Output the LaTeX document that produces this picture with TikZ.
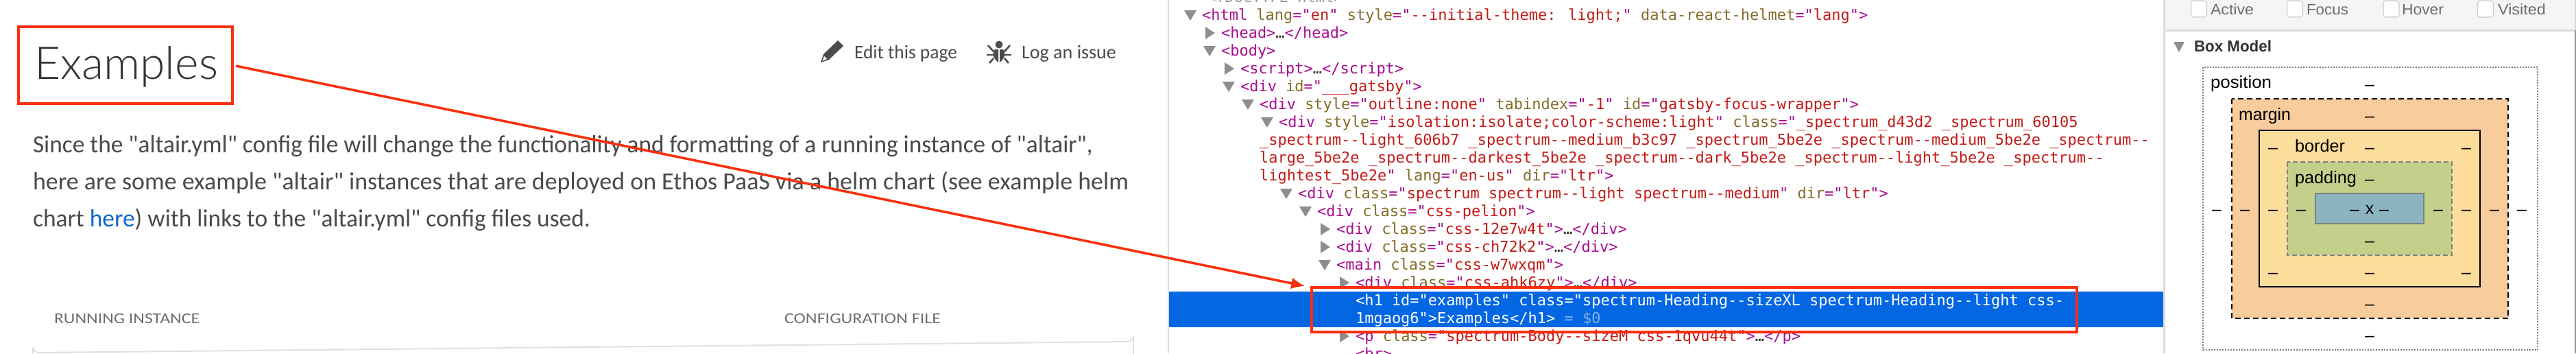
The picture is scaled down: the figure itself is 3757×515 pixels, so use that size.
\documentclass[tikz,border=0pt]{standalone}
\usepackage{fontspec}
\usepackage{graphicx}
\usetikzlibrary{arrows.meta}
\newfontfamily\pagefont{Lato Light}
\newfontfamily\pagereg{Carlito}
\newfontfamily\codefont{DejaVu Sans Mono}
\newfontfamily\panelfont{Liberation Sans}
\definecolor{inkgray}{HTML}{4B4B4B}
\definecolor{capgray}{HTML}{6E6E6E}
\definecolor{linkblue}{HTML}{0D66D0}
\definecolor{annored}{HTML}{FA2F0C}
\definecolor{tagc}{HTML}{A90D91}
\definecolor{attrc}{HTML}{836C28}
\definecolor{valc}{HTML}{C41A16}
\definecolor{selblue}{HTML}{0366E3}
\definecolor{rulec}{HTML}{DCDCDC}
\definecolor{trigray}{HTML}{8E8E8E}
\definecolor{mcol}{HTML}{F9CC9D}
\definecolor{bcol}{HTML}{FDDD9B}
\definecolor{pcol}{HTML}{C3D08B}
\definecolor{ccol}{HTML}{8CB4C0}
\newcommand{\fitw}[2]{\resizebox{#1pt}{\height}{#2}}
\newcommand{\tg}[1]{\textcolor{tagc}{#1}}
\newcommand{\an}[1]{\textcolor{attrc}{#1}}
\newcommand{\av}[1]{\textcolor{valc}{#1}}
\newcommand{\eqq}{\tg{="}}
\newcommand{\qq}{\tg{"}}
\newcommand{\elp}{\textcolor{black!80}{…}}
\newcommand{\attr}[2]{\an{#1}\eqq\av{#2}\qq}
\newcommand{\tridn}[2]{\fill[trimark] ({#1-26},{#2-14}) -- ({#1-8},{#2-14}) -- ({#1-17},{#2+1}) -- cycle;}
\newcommand{\trirt}[2]{\fill[trimark] ({#1-23},{#2-16}) -- ({#1-9},{#2-7}) -- ({#1-23},{#2+2}) -- cycle;}
\newcommand{\bmdash}[3]{\node[bmtext,anchor=base] (d#1) at (#2,{#3+7}) {–};}
\begin{document}
\begin{tikzpicture}[x=1pt,y=-1pt,
  pagetxt/.style={anchor=base west,inner sep=0,outer sep=0,text=inkgray,font=\pagereg},
  captxt/.style={anchor=base west,inner sep=0,outer sep=0,text=capgray,font=\pagereg\fontsize{22}{22}\selectfont},
  codeln/.style={anchor=base west,inner sep=0,outer sep=0,font=\codefont\fontsize{22}{22}\selectfont},
  trimark/.style={fill=trigray},
  bmtext/.style={inner sep=0,outer sep=0,text=black,font=\panelfont\fontsize{25}{25}\selectfont},
  bmlab/.style={bmtext,anchor=base west},
  statetxt/.style={anchor=base west,inner sep=0,outer sep=0,text=capgray,font=\panelfont\fontsize{22}{22}\selectfont},
  cbox/.style={draw=black!20,fill=white,line width=1.2pt,rounded corners=4pt,minimum width=23pt,minimum height=24pt,inner sep=0,outer sep=0},
  annobox/.style={draw=annored,line width=3.5pt,inner sep=0,outer sep=0},
  annoarrow/.style={draw=annored,line width=3.5pt,-{Latex[length=20pt,width=17pt]}},
  rulev/.style={draw=rulec,line width=2pt},
]
\useasboundingbox (0,0) rectangle (3757,515);
\fill[white] (0,0) rectangle (3757,515);
\clip (0,0) rectangle (3757,515);

% --- documentation page
\node[pagetxt,text=black!80,font=\pagefont\fontsize{66}{66}\selectfont] (title) at (50,115) {\fitw{268}{Examples}};
\node[pagetxt,font=\pagereg\fontsize{36}{36}\selectfont] (body1) at (48,222) {\fitw{1546}{Since the "altair.yml" config file will change the functionality and formatting of a running instance of "altair",}};
\node[pagetxt,font=\pagereg\fontsize{36}{36}\selectfont] (body2) at (48,276) {\fitw{1598}{here are some example "altair" instances that are deployed on Ethos PaaS via a helm chart (see example helm}};
\node[pagetxt,font=\pagereg\fontsize{36}{36}\selectfont] (body3) at (48,330) {\fitw{813}{chart \textcolor{linkblue}{here}) with links to the "altair.yml" config files used.}};
\node[pagetxt,font=\pagereg\fontsize{28}{28}\selectfont] (edit) at (1246,85) {\fitw{150}{Edit this page}};
\node[pagetxt,font=\pagereg\fontsize{28}{28}\selectfont] (issue) at (1490,85) {\fitw{138}{Log an issue}};
\node[captxt] (runinst) at (79,471) {\fitw{212}{RUNNING INSTANCE}};
\node[captxt] (cfgfile) at (1144,471) {\fitw{228}{CONFIGURATION FILE}};
\draw[draw=black!12,line width=2pt] (48,520) -- (48,506) arc[start angle=180,end angle=90,radius=8] -- (1645,498) arc[start angle=90,end angle=0,radius=8] -- (1653,520);

% pencil icon
\fill[inkgray] (1197,91) -- (1201,79) -- (1222,59) -- (1230,67) -- (1209,87) -- cycle;
\fill[white] (1199.5,88.5) -- (1202,82) -- (1206,86) -- cycle;
% bug icon
\fill[inkgray] (1457,65) circle (5.5);
\fill[inkgray] (1456,72) -- (1451,72) .. controls (1447,76) and (1447,84) .. (1456,91) -- cycle;
\fill[inkgray] (1458,72) -- (1463,72) .. controls (1467,76) and (1467,84) .. (1458,91) -- cycle;
\foreach \s in {-1,1} {
  \draw[inkgray,line width=2.6pt] ({1457+\s*8},75) -- ({1457+\s*16},66);
  \draw[inkgray,line width=2.6pt] ({1457+\s*8},80) -- ({1457+\s*18},80);
  \draw[inkgray,line width=2.6pt] ({1457+\s*8},85) -- ({1457+\s*14},92);
}

% --- dom tree
\fill[selblue] (1704,425) rectangle (3155,477);
\node[codeln,text=black!40] (cm) at (1760,3) {<!DOCTYPE html>};
\tridn{1753}{29}\node[codeln] (c0) at (1753,29) {\tg{<html} \attr{lang}{en} \attr{style}{--initial-theme: light;} \attr{data-react-helmet}{lang}\tg{>}};
\trirt{1781}{55}\node[codeln] (c1) at (1781,55) {\tg{<head>}\elp\tg{</head>}};
\tridn{1781}{81}\node[codeln] (c2) at (1781,81) {\tg{<body>}};
\trirt{1809}{107}\node[codeln] (c3) at (1809,107) {\tg{<script>}\elp\tg{</script>}};
\tridn{1809}{133}\node[codeln] (c4) at (1809,133) {\tg{<div} \attr{id}{\_\_\_gatsby}\tg{>}};
\tridn{1837}{159}\node[codeln] (c5) at (1837,159) {\tg{<div} \attr{style}{outline:none} \attr{tabindex}{-1} \attr{id}{gatsby-focus-wrapper}\tg{>}};
\tridn{1865}{185}\node[codeln] (c6) at (1865,185) {\tg{<div} \attr{style}{isolation:isolate;color-scheme:light} \an{class}\eqq\av{\_spectrum\_d43d2 \_spectrum\_60105}};
\node[codeln,text=valc] (c7) at (1837,211) {\_spectrum--light\_606b7 \_spectrum--medium\_b3c97 \_spectrum\_5be2e \_spectrum--medium\_5be2e \_spectrum--};
\node[codeln,text=valc] (c8) at (1837,237) {large\_5be2e \_spectrum--darkest\_5be2e \_spectrum--dark\_5be2e \_spectrum--light\_5be2e \_spectrum--};
\node[codeln,text=valc] (c9) at (1837,263) {lightest\_5be2e\qq{} \attr{lang}{en-us} \attr{dir}{ltr}\tg{>}};
\tridn{1893}{289}\node[codeln] (c10) at (1893,289) {\tg{<div} \attr{class}{spectrum spectrum--light spectrum--medium} \attr{dir}{ltr}\tg{>}};
\tridn{1921}{315}\node[codeln] (c11) at (1921,315) {\tg{<div} \attr{class}{css-pelion}\tg{>}};
\trirt{1949}{341}\node[codeln] (c12) at (1949,341) {\tg{<div} \attr{class}{css-12e7w4t}\tg{>}\elp\tg{</div>}};
\trirt{1949}{367}\node[codeln] (c13) at (1949,367) {\tg{<div} \attr{class}{css-ch72k2}\tg{>}\elp\tg{</div>}};
\tridn{1949}{393}\node[codeln] (c14) at (1949,393) {\tg{<main} \attr{class}{css-w7wxqm}\tg{>}};
\trirt{1977}{419}\node[codeln] (c15) at (1977,419) {\tg{<div} \attr{class}{css-ahk6zy}\tg{>}\elp\tg{</div>}};
\node[codeln,text=white] (c16) at (1977,445) {<h1 id="examples" class="spectrum-Heading--sizeXL spectrum-Heading--light css-};
\node[codeln,text=white] (c17) at (1977,471) {1mgaog6">Examples</h1> \textcolor{white!50!selblue}{= \$0}};
\trirt{1977}{497}\node[codeln] (c18) at (1977,497) {\tg{<p} \attr{class}{spectrum-Body--sizeM css-1qvu44t}\tg{>}\elp\tg{</p>}};
\node[codeln] (c19) at (1977,523) {\tg{<br>}};
\draw[rulev] (1704,0) -- (1704,515);

% --- styles side panel
\fill[black!4] (3156,0) rectangle (3757,44);
\draw[draw=rulec,line width=3pt] (3156,44) -- (3755,44);
\draw[draw=rulec,line width=3pt] (3156.5,0) -- (3156.5,515);
\draw[draw=black!15,line width=2.5pt] (3756,0) -- (3756,44);
\draw[draw=black!40,line width=2.5pt] (3756,44) -- (3756,515);
\node[cbox] (cbactive) at (3207,13) {};
\node[cbox] (cbfocus) at (3347,13) {};
\node[cbox] (cbhover) at (3487.5,13) {};
\node[cbox] (cbvisited) at (3625,13) {};
\node[statetxt] (tactive) at (3224,21) {\fitw{63}{Active}};
\node[statetxt] (tfocus) at (3364,21) {\fitw{61}{Focus}};
\node[statetxt] (thover) at (3503,21) {\fitw{61}{Hover}};
\node[statetxt] (tvisited) at (3643,21) {\fitw{70}{Visited}};
\fill[trimark] (3170,61) -- (3186,61) -- (3178,76) -- cycle;
\node[statetxt,text=black!80,font=\panelfont\bfseries\fontsize{23}{23}\selectfont] (bmtitle) at (3200,75) {\fitw{113}{Box Model}};

% box model
\draw[draw=black!50,line width=2pt,dash pattern=on 2pt off 2pt,fill=white] (3212.5,98) rectangle (3700.5,510);
\draw[draw=black,line width=2pt,dash pattern=on 8pt off 5pt,fill=mcol] (3254.5,144) rectangle (3658,464);
\draw[draw=black,line width=2pt,fill=bcol] (3295,190) rectangle (3617,418);
\draw[draw=black!50,line width=2pt,dash pattern=on 7pt off 4pt,fill=pcol] (3336,236) rectangle (3576,372);
\draw[draw=black!50,line width=2pt,fill=ccol] (3377,282) rectangle (3535,326);
\node[bmlab] (lpos) at (3224,128) {\fitw{89}{position}};
\node[bmlab] (lmar) at (3265,175) {\fitw{76}{margin}};
\node[bmlab] (lbor) at (3347,221) {\fitw{73}{border}};
\node[bmlab] (lpad) at (3347,267) {\fitw{90}{padding}};
\node[bmtext,anchor=base] (lx) at (3456,312) {x};
\bmdash{a}{3456}{124}
\bmdash{b}{3456}{170}
\bmdash{c}{3315}{216}
\bmdash{e}{3456}{216}
\bmdash{f}{3597}{216}
\bmdash{g}{3456}{262}
\bmdash{h}{3233}{306}
\bmdash{i}{3274}{306}
\bmdash{j}{3315}{306}
\bmdash{k}{3356}{306}
\bmdash{l}{3434}{306}
\bmdash{m}{3477}{306}
\bmdash{n}{3556}{306}
\bmdash{o}{3597}{306}
\bmdash{p}{3638}{306}
\bmdash{q}{3678}{306}
\bmdash{r}{3456}{352}
\bmdash{s}{3315}{398}
\bmdash{t}{3456}{398}
\bmdash{u}{3597}{398}
\bmdash{v}{3456}{444}
\bmdash{w}{3456}{490}

% --- annotation
\node[annobox,minimum width=312pt,minimum height=112pt] (exbox) at (183,95) {};
\node[annobox,minimum width=1116pt,minimum height=65pt] (hbox) at (2471,451.5) {};
\draw[annoarrow,shorten <=5pt,shorten >=10pt] (exbox.east) -- (hbox.north west);
\end{tikzpicture}
\end{document}
